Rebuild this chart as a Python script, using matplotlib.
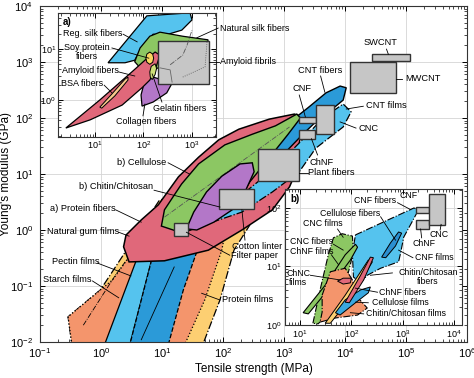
import matplotlib.pyplot as plt
import numpy as np
from matplotlib.patches import Polygon, Rectangle
from matplotlib.ticker import LogLocator, NullFormatter

plt.rcParams['font.family'] = ['Liberation Sans', 'DejaVu Sans']

## DATA ##
# envelopes as log10(tensile strength / MPa), log10(Young's modulus / GPa)

# main chart
gum_films = [(-0.47, -2.1), (-0.54, -1.55), (-0.01, -1.07), (0.61, -0.04), (0.95, 0.52),
             (1.65, 0.89), (2.44, 0.09), (2.18, -0.36), (1.95, -1.25), (1.65, -2.1)]
pectin_films = [(-0.47, -2.1), (-0.54, -1.55), (0.19, -0.89), (0.66, -0.18), (1.15, 0.27),
                (2.06, 0.09), (1.98, -0.36), (1.70, -1.25), (1.35, -2.1)]
starch_films = [(0.04, -2.1), (0.61, -0.45), (0.85, -0.45), (0.46, -2.1)]
protein_films = [(0.46, -2.1), (0.85, -0.45), (1.57, -0.39), (1.35, -1.07), (1.09, -2.1)]
protein_fibers = [(0.41, -0.09), (0.66, 0.18), (0.94, 0.45), (1.27, 0.95), (1.60, 1.30),
                  (1.93, 1.61), (2.26, 1.80), (2.76, 1.98), (3.17, 2.07), (3.30, 2.02),
                  (3.24, 1.43), (3.19, 1.02), (3.09, 0.77), (2.81, 0.36), (2.31, 0.0),
                  (1.76, -0.36), (1.04, -0.55), (0.46, -0.57), (0.37, -0.30)]
cnt_films = [(1.65, 0.14), (2.31, 0.63), (2.81, 1.07), (3.30, 1.61), (3.64, 2.0), (3.97, 2.25),
             (4.10, 2.11), (3.97, 1.84), (3.52, 1.46), (3.25, 1.04), (2.81, 0.68),
             (2.31, 0.32), (1.45, 0.0)]
cnt_fibers = [(2.61, 1.43), (2.97, 1.82), (3.39, 2.18), (3.69, 2.45), (3.92, 2.57), (4.02, 2.54),
              (3.97, 2.32), (3.77, 2.14), (3.52, 1.93), (3.30, 1.70), (3.06, 1.43), (2.77, 1.25)]
cellulose = [(0.99, 0.07), (1.04, 0.36), (1.32, 0.82), (1.60, 1.18), (2.03, 1.52), (2.48, 1.71),
             (2.86, 1.86), (3.21, 2.07), (3.27, 2.0), (3.06, 1.70), (2.73, 1.25), (2.44, 0.86),
             (2.18, 0.39), (1.73, 0.09), (1.32, -0.05)]
chitin = [(1.40, 0.02), (1.52, 0.32), (1.73, 0.68), (1.98, 0.96), (2.28, 1.18), (2.48, 1.20),
          (2.51, 1.04), (2.36, 0.68), (2.15, 0.36), (1.85, 0.14), (1.57, 0.0)]
trace_blue = [(0.66, -1.96), (1.20, -0.66)]
trace_film = [(-0.29, -1.70), (0.24, -0.80), (0.66, -0.18)]
trace_green = [(1.04, 0.23), (3.09, 1.84)]

# boxes: strength range (MPa), modulus range (GPa)
filter_paper = ((16, 27), (0.78, 1.35))
cotton_linter = ((85, 325), (2.4, 5.4))
plant_fibers = ((380, 1780), (7.6, 28))
cnf = ((1780, 3300), (81, 105))
chnf = ((1780, 3200), (43, 62))
cnc = ((3300, 6600), (51, 170))
mwcnt = ((12000, 69000), (280, 1000))
swcnt = ((28000, 115000), (1050, 1380))
amyloid_fibrils = ((200, 2240), (2.05, 14.4))

# inset a) protein fibers
reg_silk = [(1.27, 0.73), (2.07, 1.65), (2.96, 1.71), (3.00, 1.57), (2.79, 1.37), (2.44, 1.27),
            (2.20, 1.29), (1.93, 0.98), (1.82, 0.78), (1.62, 0.73)]
natural_silk = [(1.82, 0.75), (1.93, 1.02), (2.13, 1.25), (2.34, 1.33), (2.81, 1.25), (3.33, 1.18),
                (3.33, 0.88), (2.55, 0.75), (2.30, 0.63), (2.13, 0.55), (1.97, 0.59)]
amyloid_fibers = [(0.40, -0.55), (1.10, 0.0), (1.76, 0.55), (2.03, 0.78), (2.24, 0.94), (2.34, 0.88),
                  (2.24, 0.59), (2.13, 0.39), (1.97, 0.24), (1.56, -0.10), (0.90, -0.39)]
bsa_fibers = [(1.10, -0.14), (1.35, 0.12), (1.62, 0.41), (1.68, 0.45), (1.68, 0.39), (1.41, 0.08),
              (1.14, -0.16)]
soy_fibers = [(2.13, 0.94), (2.19, 0.90), (2.21, 0.82), (2.19, 0.74), (2.13, 0.70), (2.07, 0.74),
              (2.05, 0.82), (2.07, 0.90)]
gelatin_fibers = [(2.24, 0.71), (2.27, 0.62), (2.24, 0.50), (2.18, 0.40), (2.14, 0.45), (2.13, 0.55),
                  (2.16, 0.66)]
collagen_fibers = [(2.03, 0.39), (2.13, 0.47), (2.40, 0.39), (2.59, 0.33), (2.48, 0.14), (2.20, -0.04),
                   (1.97, -0.12), (1.95, 0.10)]
trace_silk = [(2.55, 0.69), (2.81, 0.88), (2.90, 1.08), (3.0, 1.37)]
trace_amyloid = [(2.81, 0.45), (3.27, 0.65), (3.31, 1.14)]
trace_gelatin = [(2.34, 0.63), (2.55, 0.59), (2.59, 0.35)]

# inset b) polysaccharide materials
cnf_films = [(2.08, 1.54), (3.22, 2.0), (3.31, 1.97), (3.20, 1.79), (3.02, 1.50), (2.96, 1.23),
             (2.92, 1.08), (2.57, 0.97), (2.31, 0.85), (2.18, 0.72), (2.04, 0.82), (2.02, 1.23)]
cnc_films = [(1.25, 0.03), (1.39, 0.60), (1.55, 1.20), (1.65, 1.49), (1.82, 1.56), (2.02, 1.52),
             (2.04, 1.25), (1.88, 0.68), (1.59, 0.21), (1.35, 0.02)]
cnc_fibers = [(1.06, 0.21), (1.49, 0.68), (1.88, 1.20), (2.08, 1.38), (2.12, 1.33), (1.98, 1.11),
              (1.59, 0.65), (1.16, 0.19)]
chitin_films = [(1.43, 0.51), (1.59, 0.91), (1.88, 0.97), (2.02, 0.77), (2.08, 0.51), (2.31, 0.29),
                (2.12, 0.17), (1.69, 0.12), (1.39, 0.05), (1.43, 0.22)]
chnf_fibers = [(1.49, 0.03), (1.88, 0.51), (2.33, 1.11), (2.41, 1.08), (1.98, 0.46), (1.59, 0.03)]
cellulose_films = [(1.69, 0.21), (1.88, 0.43), (2.18, 0.60), (2.37, 0.65), (2.33, 0.55), (2.08, 0.38),
                   (1.78, 0.17)]
chitin_fibers = [(1.88, 0.39), (2.18, 0.85), (2.37, 1.16), (2.43, 1.15), (2.24, 0.77), (1.96, 0.38)]
chnc_films = [(1.73, 0.75), (1.84, 0.80), (2.0, 0.80), (1.98, 0.72), (1.84, 0.70)]
cellulose_fibers = [(2.59, 1.16), (2.76, 1.40), (2.92, 1.59), (2.98, 1.57), (2.86, 1.35), (2.67, 1.15)]

YELLOW = '#fdcf72'
SALMON = '#f4956c'
LBLUE = '#55c3ee'
DBLUE = '#2b9ad8'
PINK = '#e0687a'
GREEN = '#8cc763'
PURPLE = '#b377c8'


## FUNCTIONS ##

def envelope(ax, pts, color, ls='-', lw=0.9, z=2):
    xy = np.power(10.0, np.array(pts, dtype=float))
    ax.add_patch(Polygon(xy, closed=True, facecolor=color, edgecolor='k',
                         linestyle=ls, linewidth=lw, zorder=z))


def trace(ax, pts, ls, z, color='k', lw=0.6):
    xy = np.power(10.0, np.array(pts, dtype=float))
    ax.plot(xy[:, 0], xy[:, 1], linestyle=ls, color=color, lw=lw, zorder=z)


def box(ax, rng, z=4):
    (s0, s1), (e0, e1) = rng
    ax.add_patch(Rectangle((s0, e0), s1 - s0, e1 - e0, facecolor='#c6c6c6',
                           edgecolor='#333333', lw=1.0, zorder=z))


def labels(ax, items, fs):
    for text, pos, ha, leader in items:
        ax.text(10 ** pos[0], 10 ** pos[1], text, ha=ha, va='center', fontsize=fs,
                zorder=10, clip_on=False, linespacing=0.95)
        if leader:
            (x0, y0), (x1, y1) = leader
            ax.plot([10 ** x0, 10 ** x1], [10 ** y0, 10 ** y1], color='k', lw=0.6,
                    zorder=9, clip_on=False)


def style(ax, fs, pad):
    ax.set_xscale('log')
    ax.set_yscale('log')
    ax.tick_params(which='both', direction='in', top=True, right=True, labelsize=fs, pad=pad)
    ax.tick_params(which='major', length=3.5, width=0.7)
    ax.tick_params(which='minor', length=2, width=0.5)
    for a in (ax.xaxis, ax.yaxis):
        a.set_major_locator(LogLocator(base=10, numticks=20))
        a.set_minor_locator(LogLocator(base=10, subs=np.arange(2, 10), numticks=200))
        a.set_minor_formatter(NullFormatter())
    ax.grid(True, which='major', color='#d5d5d5', lw=0.6)
    ax.set_axisbelow(True)
    for s in ax.spines.values():
        s.set_linewidth(0.8)
        s.set_color('#333333')


fig = plt.figure(figsize=(4.74, 3.78), dpi=100)

# main chart
ax = fig.add_axes([40 / 474, 36 / 378, 427 / 474, 336 / 378])
style(ax, 8, 3)
ax.tick_params(axis='y', pad=5)
ax.set_xlim(0.1, 1e6)
ax.set_ylim(1e-2, 1e4)

envelope(ax, gum_films, YELLOW, '-.', z=2.0)
envelope(ax, pectin_films, SALMON, ':', z=2.1)
envelope(ax, starch_films, LBLUE, '-', z=2.2)
envelope(ax, protein_films, DBLUE, '--', z=2.3)
trace(ax, trace_blue, '-', 2.35)
trace(ax, trace_film, '-.', 2.35)
envelope(ax, protein_fibers, PINK, '-', lw=1.1, z=2.4)
envelope(ax, cnt_films, LBLUE, '-.', z=2.5)
envelope(ax, cnt_fibers, DBLUE, '-', lw=1.0, z=2.6)
envelope(ax, cellulose, GREEN, '-', lw=1.0, z=2.7)
trace(ax, trace_green, '-.', 2.75, color='#555555')
envelope(ax, chitin, PURPLE, '-', lw=1.0, z=2.8)
for b in (filter_paper, cotton_linter, plant_fibers, cnf, chnf, cnc, mwcnt, swcnt):
    box(ax, b)

main_labels = [
    ("SWCNT", (4.58, 3.34), "center", [(4.68, 3.23), (4.71, 3.14)]),
    ("MWCNT", (4.98, 2.70), "left", [(4.84, 2.70), (4.94, 2.70)]),
    ("CNT films", (4.35, 2.23), "left", [(4.02, 2.16), (4.30, 2.21)]),
    ("CNC", (4.22, 1.82), "left", [(3.92, 1.93), (4.18, 1.82)]),
    ("CNT fibers", (3.59, 2.84), "center", [(3.60, 2.75), (3.67, 2.46)]),
    ("CNF", (3.29, 2.52), "center", [(3.25, 2.41), (3.35, 2.02)]),
    ("ChNF", (3.62, 1.21), "center", [(3.55, 1.34), (3.45, 1.63)]),
    ("Plant fibers", (3.40, 1.02), "left", [(3.25, 1.02), (3.39, 1.02)]),
    ("b) Cellulose", (0.66, 1.20), "center", [(1.10, 1.20), (1.45, 1.0)]),
    ("b) Chitin/Chitosan", (0.24, 0.77), "center", [(0.87, 0.71), (1.95, 0.41)]),
    ("a) Protein fibers", (-0.30, 0.39), "center", [(0.24, 0.36), (0.66, 0.14)]),
    ("Natural gum films", (-0.30, -0.02), "center", [(0.29, -0.04), (0.46, -0.11)]),
    ("Pectin films", (-0.42, -0.57), "center", [(-0.06, -0.59), (0.49, -0.82)]),
    ("Starch films", (-0.55, -0.88), "center", [(-0.14, -0.91), (0.29, -1.21)]),
    ("Protein films", (2.41, -1.25), "center", [(1.65, -1.13), (1.95, -1.25)]),
    ("Cotton linter", (2.56, -0.29), "center", [(2.31, 0.36), (2.36, -0.18)]),
    ("Filter paper", (2.51, -0.46), "center", [(1.40, -0.04), (2.11, -0.45)]),
]
labels(ax, main_labels, 6.7)

ax.set_xlabel('Tensile strength (MPa)', fontsize=8.5)
ax.set_ylabel("Young's modulus (GPa)", fontsize=8.5)
ax.xaxis.set_label_coords(0.5, -0.062)
ax.yaxis.set_label_coords(-0.066, 0.5)

# inset a)
axa = fig.add_axes([58 / 474, 241 / 378, 158 / 474, 124 / 378])
style(axa, 6.5, 1.5)
axa.set_xlim(1.73, 3126)
axa.set_ylim(0.188, 50.8)
envelope(axa, reg_silk, LBLUE, '-', z=2.0)
envelope(axa, natural_silk, GREEN, '-', z=2.1)
envelope(axa, collagen_fibers, PURPLE, '-', z=2.2)
envelope(axa, amyloid_fibers, PINK, '-', z=2.3)
envelope(axa, bsa_fibers, '#f7c98b', '-', lw=0.7, z=2.4)
box(axa, amyloid_fibrils, z=3)
envelope(axa, soy_fibers, '#fbd660', '-', lw=0.7, z=3.1)
envelope(axa, gelatin_fibers, '#cfe07a', '-', lw=0.7, z=3.2)
trace(axa, trace_silk, '-.', 3.5, color='#555555')
trace(axa, trace_amyloid, ':', 3.5, color='#555555')
trace(axa, trace_gelatin, '-', 3.5, color='#666666')
axa.text(0.03, 0.93, 'a)', transform=axa.transAxes, fontsize=7, fontweight='bold',
         va='center', ha='left')
inset_a_labels = [
    ("Reg. silk fibers", (0.96, 1.31), "center", [(1.58, 1.29), (1.87, 1.14)]),
    ("Soy protein\nfibers", (0.84, 0.94), "center", [(1.35, 1.02), (2.11, 0.82)]),
    ("Amyloid fibers", (0.90, 0.57), "center", [(1.49, 0.55), (1.82, 0.47)]),
    ("BSA fibers", (0.73, 0.33), "center", [(1.19, 0.29), (1.35, 0.14)]),
    ("Gelatin fibers", (2.75, -0.16), "center", [(2.38, -0.04), (2.18, 0.51)]),
    ("Collagen fibers", (2.05, -0.43), "center", [(1.99, -0.31), (2.03, -0.08)]),
    ("Natural silk fibers", (3.58, 1.41), "left", [(3.10, 1.22), (3.54, 1.41)]),
    ("Amyloid fibrils", (3.58, 0.75), "left", [(3.35, 0.75), (3.56, 0.75)]),
]
labels(axa, inset_a_labels, 6.5)

# inset b)
axb = fig.add_axes([285 / 474, 53 / 378, 177 / 474, 136 / 378])
style(axb, 6.5, 2.5)
axb.set_xlim(5.08, 14350)
axb.set_ylim(1, 211)
envelope(axb, cnf_films, LBLUE, '-.', lw=0.8, z=2.0)
envelope(axb, cnc_films, GREEN, '-.', lw=0.8, z=2.1)
envelope(axb, cnc_fibers, GREEN, '-', lw=0.8, z=2.2)
envelope(axb, chitin_films, SALMON, '-.', lw=0.8, z=2.3)
envelope(axb, chnf_fibers, YELLOW, '-', lw=0.7, z=2.4)
envelope(axb, cellulose_films, '#3aa8e0', '-', lw=0.7, z=2.5)
envelope(axb, chitin_fibers, PINK, '-', lw=0.7, z=2.6)
envelope(axb, chnc_films, PINK, '-', lw=0.7, z=2.7)
envelope(axb, cellulose_fibers, '#2b8fd0', '-', lw=0.7, z=2.8)
for b in (cnf, chnf, cnc):
    box(axb, b, z=3)
axb.text(0.03, 0.93, 'b)', transform=axb.transAxes, fontsize=7, fontweight='bold',
         va='center', ha='left')
inset_b_labels = [
    ("CNF fibers", (2.47, 2.12), "center", [(2.90, 2.09), (3.16, 1.97)]),
    ("CNF", (3.12, 2.22), "center", None),
    ("Cellulose fibers", (1.98, 1.91), "center", [(2.57, 1.85), (2.86, 1.45)]),
    ("CNC films", (1.45, 1.73), "center", [(1.73, 1.64), (1.84, 1.50)]),
    ("CNC fibers", (1.22, 1.42), "center", [(1.65, 1.38), (1.84, 1.28)]),
    ("ChNF films", (1.22, 1.25), "center", [(1.61, 1.20), (1.75, 1.03)]),
    ("ChNC\nfilms", (0.96, 0.80), "center", [(1.20, 0.85), (1.78, 0.77)]),
    ("CNC", (3.71, 1.54), "center", [(3.75, 1.72), (3.73, 1.62)]),
    ("ChNF", (3.41, 1.40), "center", [(3.35, 1.64), (3.37, 1.49)]),
    ("CNF films", (3.61, 1.15), "center", [(2.92, 1.28), (3.20, 1.15)]),
    ("Chitin/Chitosan\nfibers", (3.49, 0.82), "center", [(2.37, 0.85), (2.80, 0.89)]),
    ("ChNF fibers", (3.0, 0.56), "center", [(2.08, 0.63), (2.51, 0.56)]),
    ("Cellulose films", (2.96, 0.38), "center", [(2.08, 0.39), (2.33, 0.38)]),
    ("Chitin/Chitosan films", (3.06, 0.19), "center", [(1.98, 0.21), (2.24, 0.19)]),
]
labels(axb, inset_b_labels, 6.3)

fig.savefig('out.png', dpi=100)
